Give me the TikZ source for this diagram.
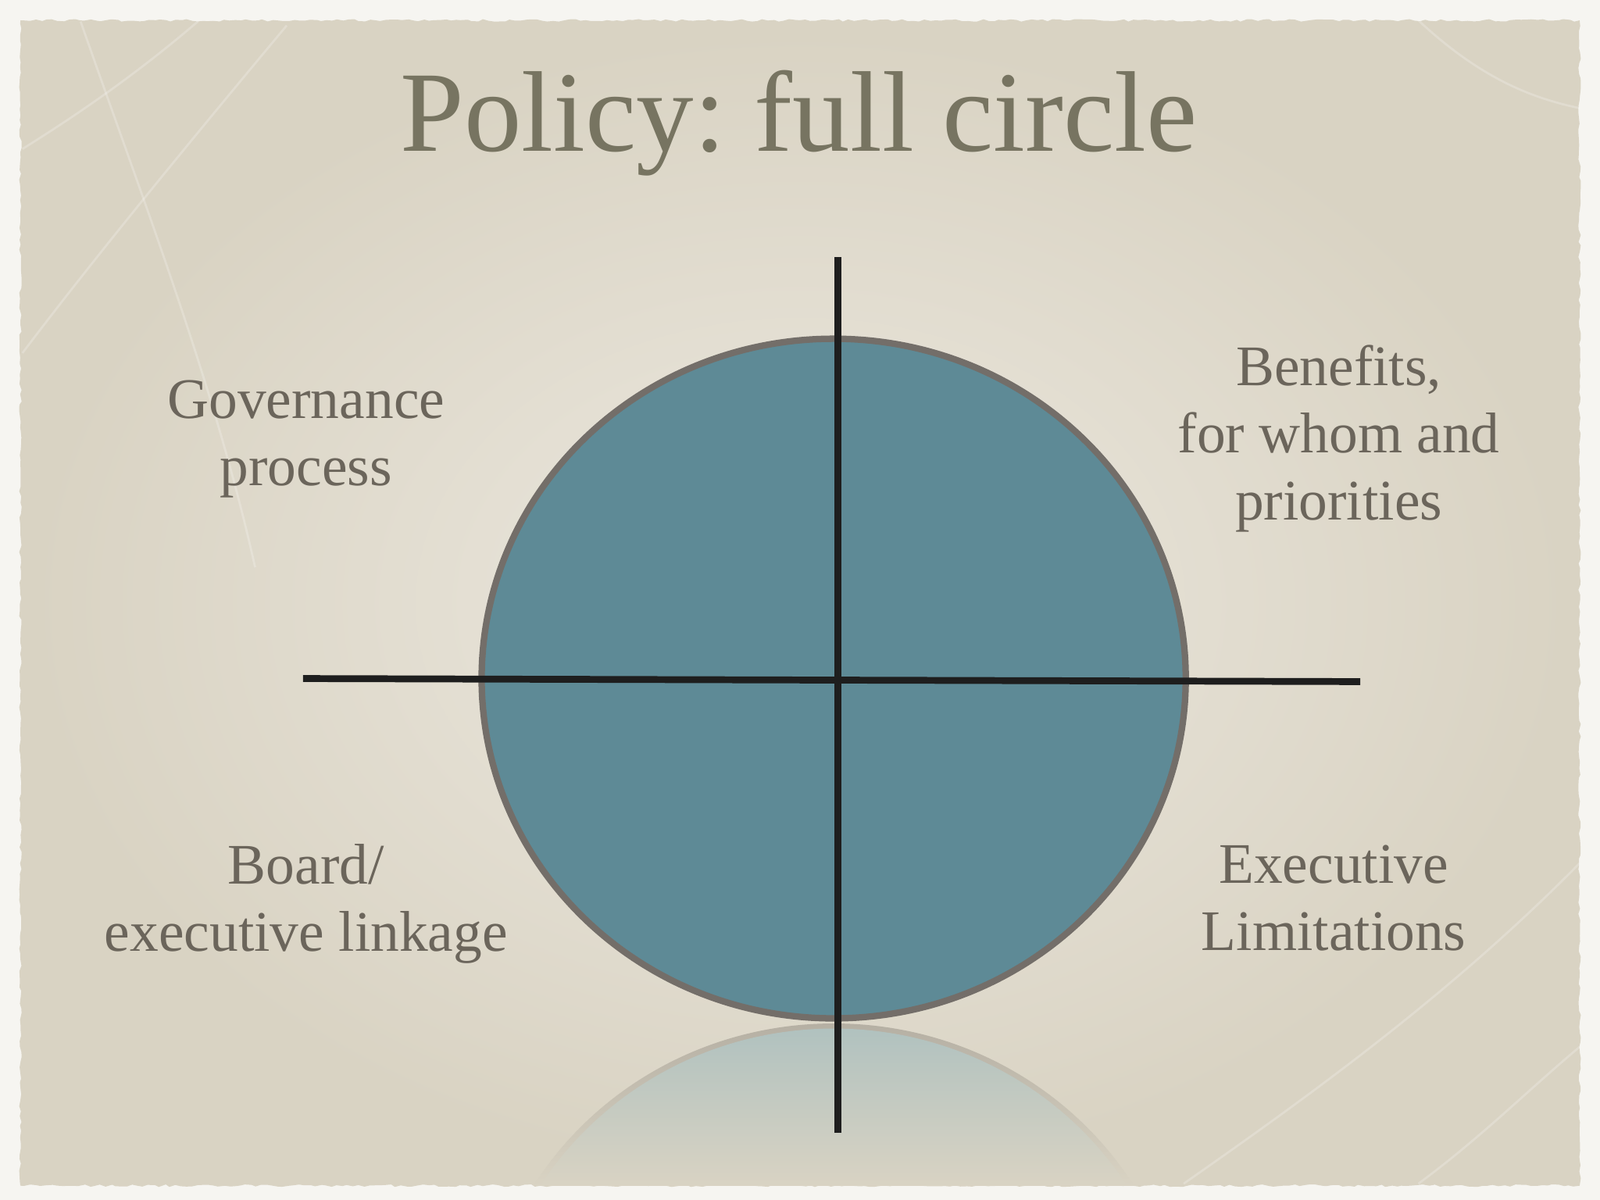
\documentclass[tikz,border=0pt]{standalone}
\usepackage{fontspec}
\setmainfont{Liberation Serif}
\usetikzlibrary{decorations.pathmorphing, shapes.geometric}
\definecolor{latar}{HTML}{F6F5F1}
\definecolor{kertas}{HTML}{D9D3C3}
\definecolor{terang}{HTML}{ECE8DF}
\definecolor{tinta}{HTML}{6B655B}
\definecolor{zaitun}{HTML}{777461}
\definecolor{isi}{HTML}{5E8A96}
\definecolor{tepi}{HTML}{736E69}
\definecolor{hitam}{HTML}{1E1E1E}
\definecolor{bayang}{HTML}{AFC1BF}

\begin{document}
\frenchspacing
\begin{tikzpicture}[
    judul/.style={font=\fontsize{32}{38}\selectfont, text=zaitun},
    ket/.style={align=center, font=\fontsize{16}{18.7}\selectfont, text=tinta},
    bola/.style={fill=isi, draw=tepi, line width=1.8pt},
    garis/.style={draw=hitam, line width=1.9pt},
    serat/.style={white, opacity=0.22, line width=0.6pt}
  ]
    \useasboundingbox[fill=latar] (0,0) rectangle (15.68,11.76);
    % kertas
    \fill[kertas, decorate, decoration={random steps, segment length=1.5pt, amplitude=0.35pt}]
      (0.20,0.14) rectangle (15.48,11.56);
    \shade[inner color=terang, outer color=kertas] (0.3,0.25) rectangle (15.38,11.45);
    \draw[serat] (0.79,11.55) .. controls (1.4,9.8) and (2.1,8.0) .. (2.5,6.2);
    \draw[serat] (2.81,11.51) .. controls (1.8,10.3) and (0.9,9.2) .. (0.22,8.3);
    \draw[serat] (1.94,11.55) .. controls (1.3,11.0) and (0.7,10.6) .. (0.22,10.3);
    \draw[serat] (13.9,11.56) .. controls (14.5,11.0) and (15.0,10.8) .. (15.48,10.7);
    \draw[serat] (11.6,0.16) .. controls (12.8,1.0) and (14.2,2.0) .. (15.48,3.3);
    \draw[serat] (13.9,0.16) .. controls (14.5,0.6) and (15.0,1.1) .. (15.48,1.5);

    % pantulan
    \begin{scope}
      \clip (0.20,0.14) rectangle (15.48,11.56);
      \clip (8.17,-1.60) ellipse (3.45 and 3.33);
      \shade[top color=tepi!35!kertas, bottom color=kertas] (4.5,0.14) rectangle (11.9,1.74);
      \clip (8.17,-1.65) ellipse (3.41 and 3.33);
      \shade[top color=bayang, bottom color=kertas] (4.5,0.14) rectangle (11.9,1.74);
    \end{scope}

    \node[judul] (judul) at (7.83,10.55) {Policy: full circle};

    \node[bola, ellipse, minimum width=6.9cm, minimum height=6.66cm, inner sep=0pt] (bola) at (8.17,5.11) {};

    \coordinate (atas) at (8.21,9.24);
    \coordinate (bawah) at (8.21,0.66);
    \coordinate (kiri) at (2.97,5.11);
    \coordinate (kanan) at (13.33,5.08);
    \draw[garis] (atas) -- (bawah);
    \draw[garis] (kiri) -- (kanan);

    \node[ket] (tata) at (3.00,7.46) {Governance\\process};
    \node[ket] (manfaat) at (13.12,7.46) {Benefits,\\for whom and\\priorities};
    \node[ket] (dewan) at (3.00,2.90) {Board/\\executive linkage};
    \node[ket] (batas) at (13.07,2.96) {Executive\\Limitations};
\end{tikzpicture}
\end{document}
